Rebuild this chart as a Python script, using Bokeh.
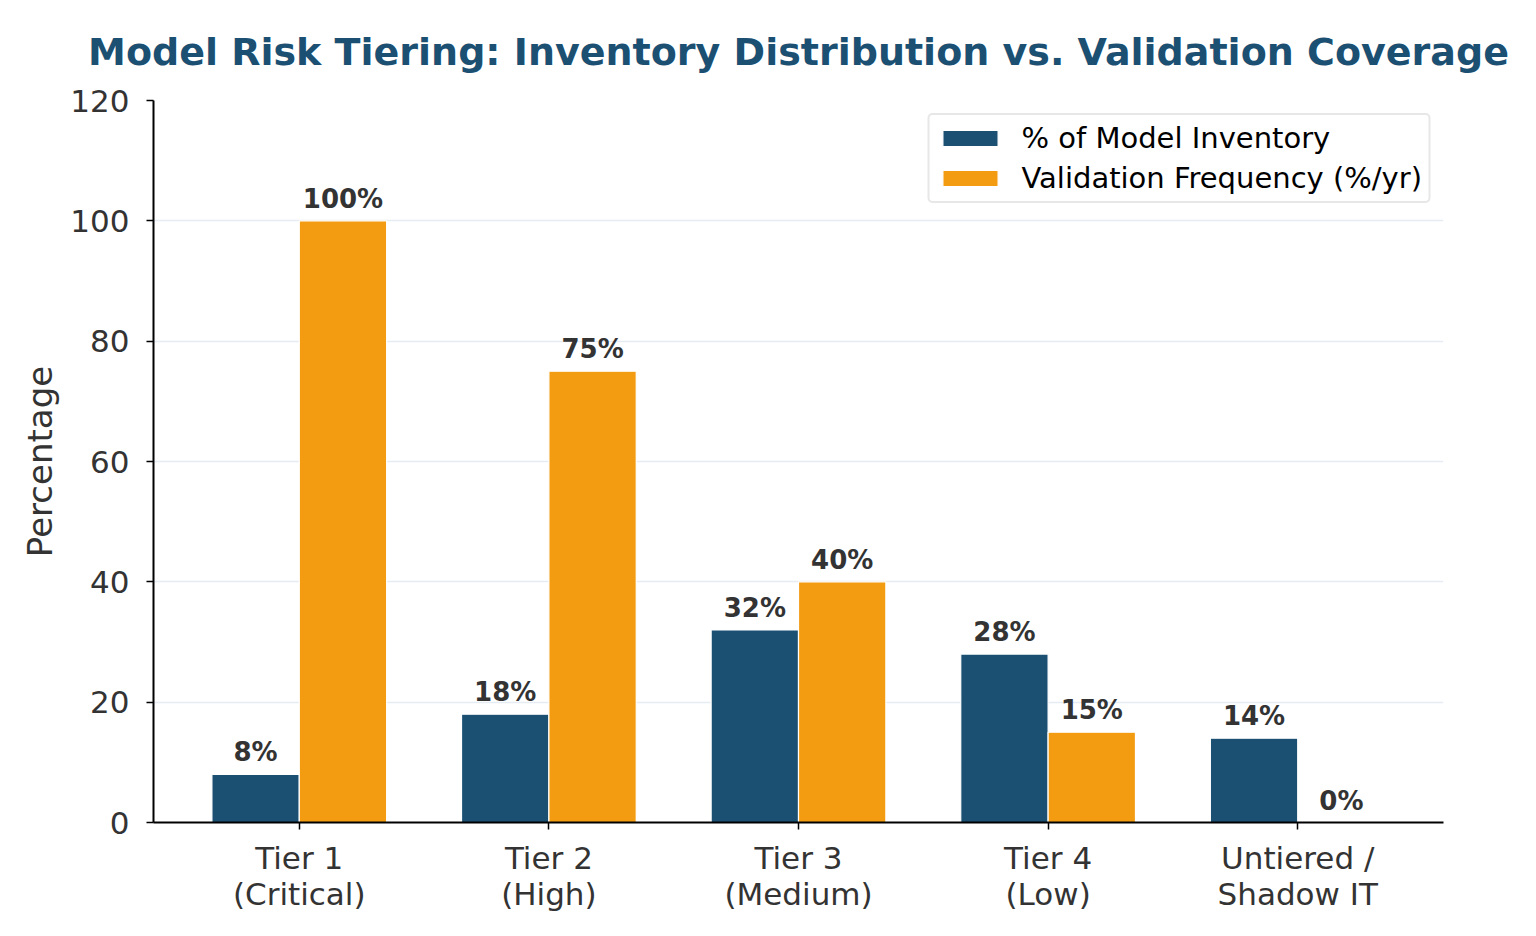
from bokeh.plotting import figure
from bokeh.models import ColumnDataSource, FixedTicker, Legend, LegendItem, Range1d
from bokeh.core.properties import value
from bokeh.embed import file_html
from bokeh.resources import INLINE

# Risk tiers and the two series compared per tier
tiers = ["Tier 1\n(Critical)", "Tier 2\n(High)", "Tier 3\n(Medium)", "Tier 4\n(Low)", "Untiered /\nShadow IT"]
inventory_pct = [8, 18, 32, 28, 14]
validation_freq = [100, 75, 40, 15, 0]
y_ticks = [0, 20, 40, 60, 80, 100, 120]

NAVY = "#1b5073"
ORANGE = "#f39c12"
TEXT = "#333333"
FONT = "DejaVu Sans"
bar_w = 0.35

xs = list(range(len(tiers)))
inv_src = ColumnDataSource(dict(
    x=[i - bar_w / 2 for i in xs], top=inventory_pct,
    label=[f"{v}%" for v in inventory_pct]))
val_src = ColumnDataSource(dict(
    x=[i + bar_w / 2 for i in xs], top=validation_freq,
    label=[f"{v}%" for v in validation_freq]))

p = figure(width=1536, height=936, output_backend="svg", toolbar_location=None,
           x_range=Range1d(-0.584, len(tiers) - 1 + 0.584), y_range=Range1d(0, 120),
           min_border_left=153, min_border_right=93, min_border_top=100, min_border_bottom=114)

p.title.text = "Model Risk Tiering: Inventory Distribution vs. Validation Coverage"
p.title.align = "center"
p.title.text_font = FONT
p.title.text_font_size = "38px"
p.title.text_font_style = "bold"
p.title.text_color = NAVY
p.title.standoff = 54

r_inv = p.vbar(x="x", top="top", width=bar_w, source=inv_src,
               fill_color=NAVY, line_color="white", line_width=1.2)
r_val = p.vbar(x="x", top="top", width=bar_w, source=val_src,
               fill_color=ORANGE, line_color="white", line_width=1.2)

for src in (inv_src, val_src):
    p.text(x="x", y="top", text="label", source=src, text_align="center",
           text_baseline="bottom", y_offset=-7, text_font=value(FONT),
           text_font_size="26px", text_font_style="bold", text_color=TEXT)

# Axes styling
p.outline_line_color = None
p.background_fill_color = "white"
p.xgrid.grid_line_color = None
p.ygrid.grid_line_color = "#e6ecf4"
p.ygrid.grid_line_width = 1.5
p.yaxis.ticker = FixedTicker(ticks=y_ticks)
p.xaxis.ticker = FixedTicker(ticks=xs)
p.xaxis.major_label_overrides = {i: t for i, t in enumerate(tiers)}
for ax in (p.xaxis, p.yaxis):
    ax.axis_line_color = "black"
    ax.axis_line_width = 2
    ax.major_tick_line_color = "black"
    ax.major_tick_line_width = 1.5
    ax.major_tick_out = 7
    ax.major_tick_in = 0
    ax.minor_tick_line_color = None
    ax.major_label_text_font = FONT
    ax.major_label_text_font_size = "31px"
    ax.major_label_text_color = TEXT
p.xaxis.major_label_text_line_height = 1.0
p.xaxis.major_label_standoff = 10
p.yaxis.major_label_standoff = 17
p.yaxis.axis_label = "Percentage"
p.yaxis.axis_label_text_font = FONT
p.yaxis.axis_label_text_font_size = "34px"
p.yaxis.axis_label_text_font_style = "normal"
p.yaxis.axis_label_text_color = TEXT
p.yaxis.axis_label_standoff = 7

legend = Legend(items=[
    LegendItem(label="% of Model Inventory", renderers=[r_inv]),
    LegendItem(label="Validation Frequency (%/yr)", renderers=[r_val]),
], location="top_right")
legend.label_text_font = FONT
legend.label_text_font_size = "29px"
legend.label_text_color = "black"
legend.glyph_width = 69
legend.glyph_height = 20
legend.label_standoff = 17
legend.label_height = 30
legend.spacing = 6
legend.padding = 6
legend.margin = 13
legend.border_line_color = "#d0d0d0"
legend.border_line_width = 2
legend.border_radius = 5
legend.background_fill_alpha = 0.9
p.add_layout(legend)

open("out.html", "w").write(file_html(p, INLINE))
